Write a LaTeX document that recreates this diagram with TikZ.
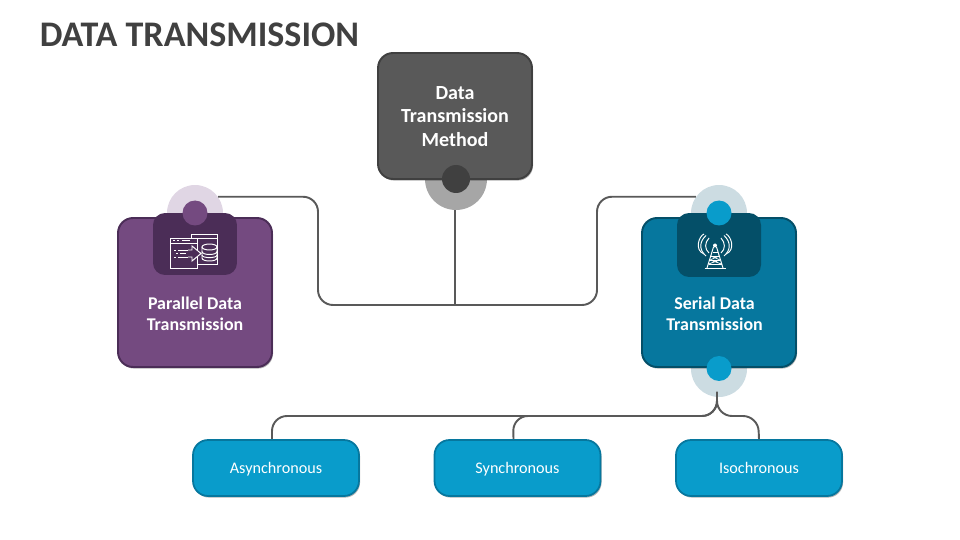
\documentclass[tikz,border=0pt]{standalone}
\usepackage{fontspec}
\setmainfont{Carlito}
\usetikzlibrary{shadows}
\definecolor{titlegray}{HTML}{404040}
\definecolor{methodgray}{HTML}{595959}
\definecolor{ringgray}{HTML}{A6A6A6}
\definecolor{wiregray}{HTML}{595959}
\definecolor{purplemain}{HTML}{744A80}
\definecolor{purpledark}{HTML}{4B2D57}
\definecolor{purplering}{HTML}{E0D6E4}
\definecolor{tealmain}{HTML}{06779E}
\definecolor{tealdark}{HTML}{044F68}
\definecolor{tealring}{HTML}{CCDCE2}
\definecolor{skyblue}{HTML}{099CCB}
\tikzset{
  softshadow/.style={drop shadow={shadow xshift=0.6pt,shadow yshift=-0.9pt,fill=black,opacity=0.3}},
  bigbox/.style={rectangle,rounded corners=0.3cm,line width=1.1pt,minimum width=3.08cm,softshadow},
  smallbox/.style={rectangle,rounded corners=0.3cm,line width=1pt,draw=tealmain,fill=skyblue,minimum width=3.32cm,minimum height=1.12cm,text=white,text height=7pt,text depth=1pt,font=\fontsize{9.2}{11}\selectfont,softshadow},
  iconbox/.style={rectangle,rounded corners=0.24cm,minimum width=1.68cm,inner sep=0pt},
  ring/.style={circle,minimum size=1.12cm,inner sep=0pt},
  dot/.style={circle,minimum size=0.5cm,inner sep=0pt},
  boxtext/.style={align=center,text=white,font=\fontsize{10.2}{12}\bfseries\selectfont},
  methodtext/.style={align=center,text=white,font=\fontsize{11.4}{13.6}\bfseries\selectfont},
  wire/.style={draw=wiregray,line width=1.1pt,rounded corners=0.3cm},
  iconline/.style={draw=white,line width=0.55pt}
}
\begin{document}
\begin{tikzpicture}[x=0.02cm,y=-0.02cm]
  \useasboundingbox (0,0) rectangle (960,540);
  % Title
  \node[anchor=west,inner sep=0pt,text=titlegray,font=\fontsize{20.5}{24}\bfseries\selectfont] (title) at (39.5,35) {DATA TRANSMISSION};
  % Rings behind the boxes
  \node[ring,fill=ringgray,minimum size=1.24cm] (methodring) at (456,179) {};
  \node[ring,fill=purplering] (parallelring) at (195,213) {};
  \node[ring,fill=tealring] (serialring) at (719,213) {};
  \node[ring,fill=tealring] (outring) at (719,369) {};
  \coordinate (junction) at (455,305);
  \coordinate (fork) at (717,392);
  % Boxes
  \node[bigbox,draw=titlegray,fill=methodgray,minimum height=2.52cm] (methodbox) at (455,116) {};
  \node[bigbox,draw=purpledark,fill=purplemain,minimum height=2.98cm] (parallelbox) at (195,292.5) {};
  \node[bigbox,draw=tealdark,fill=tealmain,minimum height=2.98cm] (serialbox) at (719,292.5) {};
  \node[smallbox] (asyncbox) at (276,468) {Asynchronous};
  \node[smallbox] (syncbox) at (517.5,468) {Synchronous};
  \node[smallbox] (isobox) at (759,468) {Isochronous};
  % Connectors
  \draw[wire] (parallelring.35) -| (318,305) -- (junction);
  \draw[wire] (serialring.145) -| (597,305) -- (junction);
  \draw[wire] ([xshift=-0.02cm]methodring.south) -- (junction);
  \draw[wire] (fork) |- (272,416) -- ([xshift=-0.08cm]asyncbox.north);
  \draw[wire] (fork) |- (513,416) -- ([xshift=-0.08cm]syncbox.north);
  \draw[wire] (fork) |- (758,416) -- (isobox.north);
  % Icon boxes
  \node[iconbox,fill=purpledark,minimum height=1.24cm] (parallelicon) at (195,244) {};
  \node[iconbox,fill=tealdark,minimum height=1.28cm] (serialicon) at (719,245) {};
  % Dots
  \node[dot,fill=titlegray,minimum size=0.56cm] (methoddot) at (456,179) {};
  \node[dot,fill=purplemain] (paralleldot) at (195,213) {};
  \node[dot,fill=skyblue] (serialdot) at (719,213) {};
  \node[dot,fill=skyblue] (outdot) at (719,368.5) {};
  % Box texts
  \node[methodtext] (methodlabel) at (455,116.5) {Data\\Transmission\\Method};
  \node[boxtext] (paralleltext) at (195,314) {Parallel Data\\Transmission};
  \node[boxtext] (serialtext) at (714.5,314) {Serial Data\\Transmission};
  % Parallel icon: two windows, arrow, database
  \draw[iconline] (191,238) -- (191,234) -- (217,234) -- (217,264) -- (197,264);
  \draw[iconline,fill=purpledark] (170,238) rectangle (197,268);
  \draw[iconline] (170,243) -- (197,243);
  \draw[iconline] (197,238.5) -- (217,238.5);
  \draw[iconline] (173,240.5) -- (175,240.5) (177,240.5) -- (179,240.5) (182,240.5) -- (190,240.5);
  \draw[iconline,fill=purpledark] (188,250) -- (192,250) -- (192,246) -- (201,253.5) -- (192,261) -- (192,257) -- (188,257);
  \draw[iconline] (174,250) -- (176,250) (178,250) -- (188,250) (176,253.5) -- (178,253.5) (180,253.5) -- (186,253.5) (174,257) -- (176,257) (178,257) -- (188,257);
  \draw[iconline] (202,247) -- (202,258) .. controls (202,262) and (217,262) .. (217,258) -- (217,247);
  \draw[iconline] (209.5,247) ellipse (7.5 and 3);
  \draw[iconline] (202,251.5) .. controls (202,255.5) and (217,255.5) .. (217,251.5);
  \draw[iconline] (202,255) .. controls (202,258.5) and (217,258.5) .. (217,255);
  % Serial icon: antenna tower with waves
  \fill[white] (715,245.5) circle (2);
  \draw[iconline] (704.5,268.5) -- (726,268.5);
  \draw[iconline] (707,268) -- (713.5,247) (723,268) -- (716.5,247);
  \draw[iconline,line width=0.4pt] (712.5,252) -- (717.5,252) (711,256) -- (719,256) (710,260) -- (720,260) (708.5,264) -- (721.5,264);
  \draw[iconline,line width=0.4pt] (711,256) -- (720,260) (719,256) -- (710,260) (710,260) -- (721.5,264) (720,260) -- (708.5,264);
  \draw[iconline] (709,238) .. controls (704.5,243) and (704.5,249) .. (709,253);
  \draw[iconline] (706,235.5) .. controls (699,242) and (699,250) .. (706,256);
  \draw[iconline] (704,234) .. controls (699,236) and (694,250) .. (704,254);
  \draw[iconline] (721,238) .. controls (725.5,243) and (725.5,249) .. (721,253);
  \draw[iconline] (724,235.5) .. controls (731,242) and (731,250) .. (724,256);
  \draw[iconline] (726,234) .. controls (731,236) and (736,250) .. (726,254);
\end{tikzpicture}
\end{document}
